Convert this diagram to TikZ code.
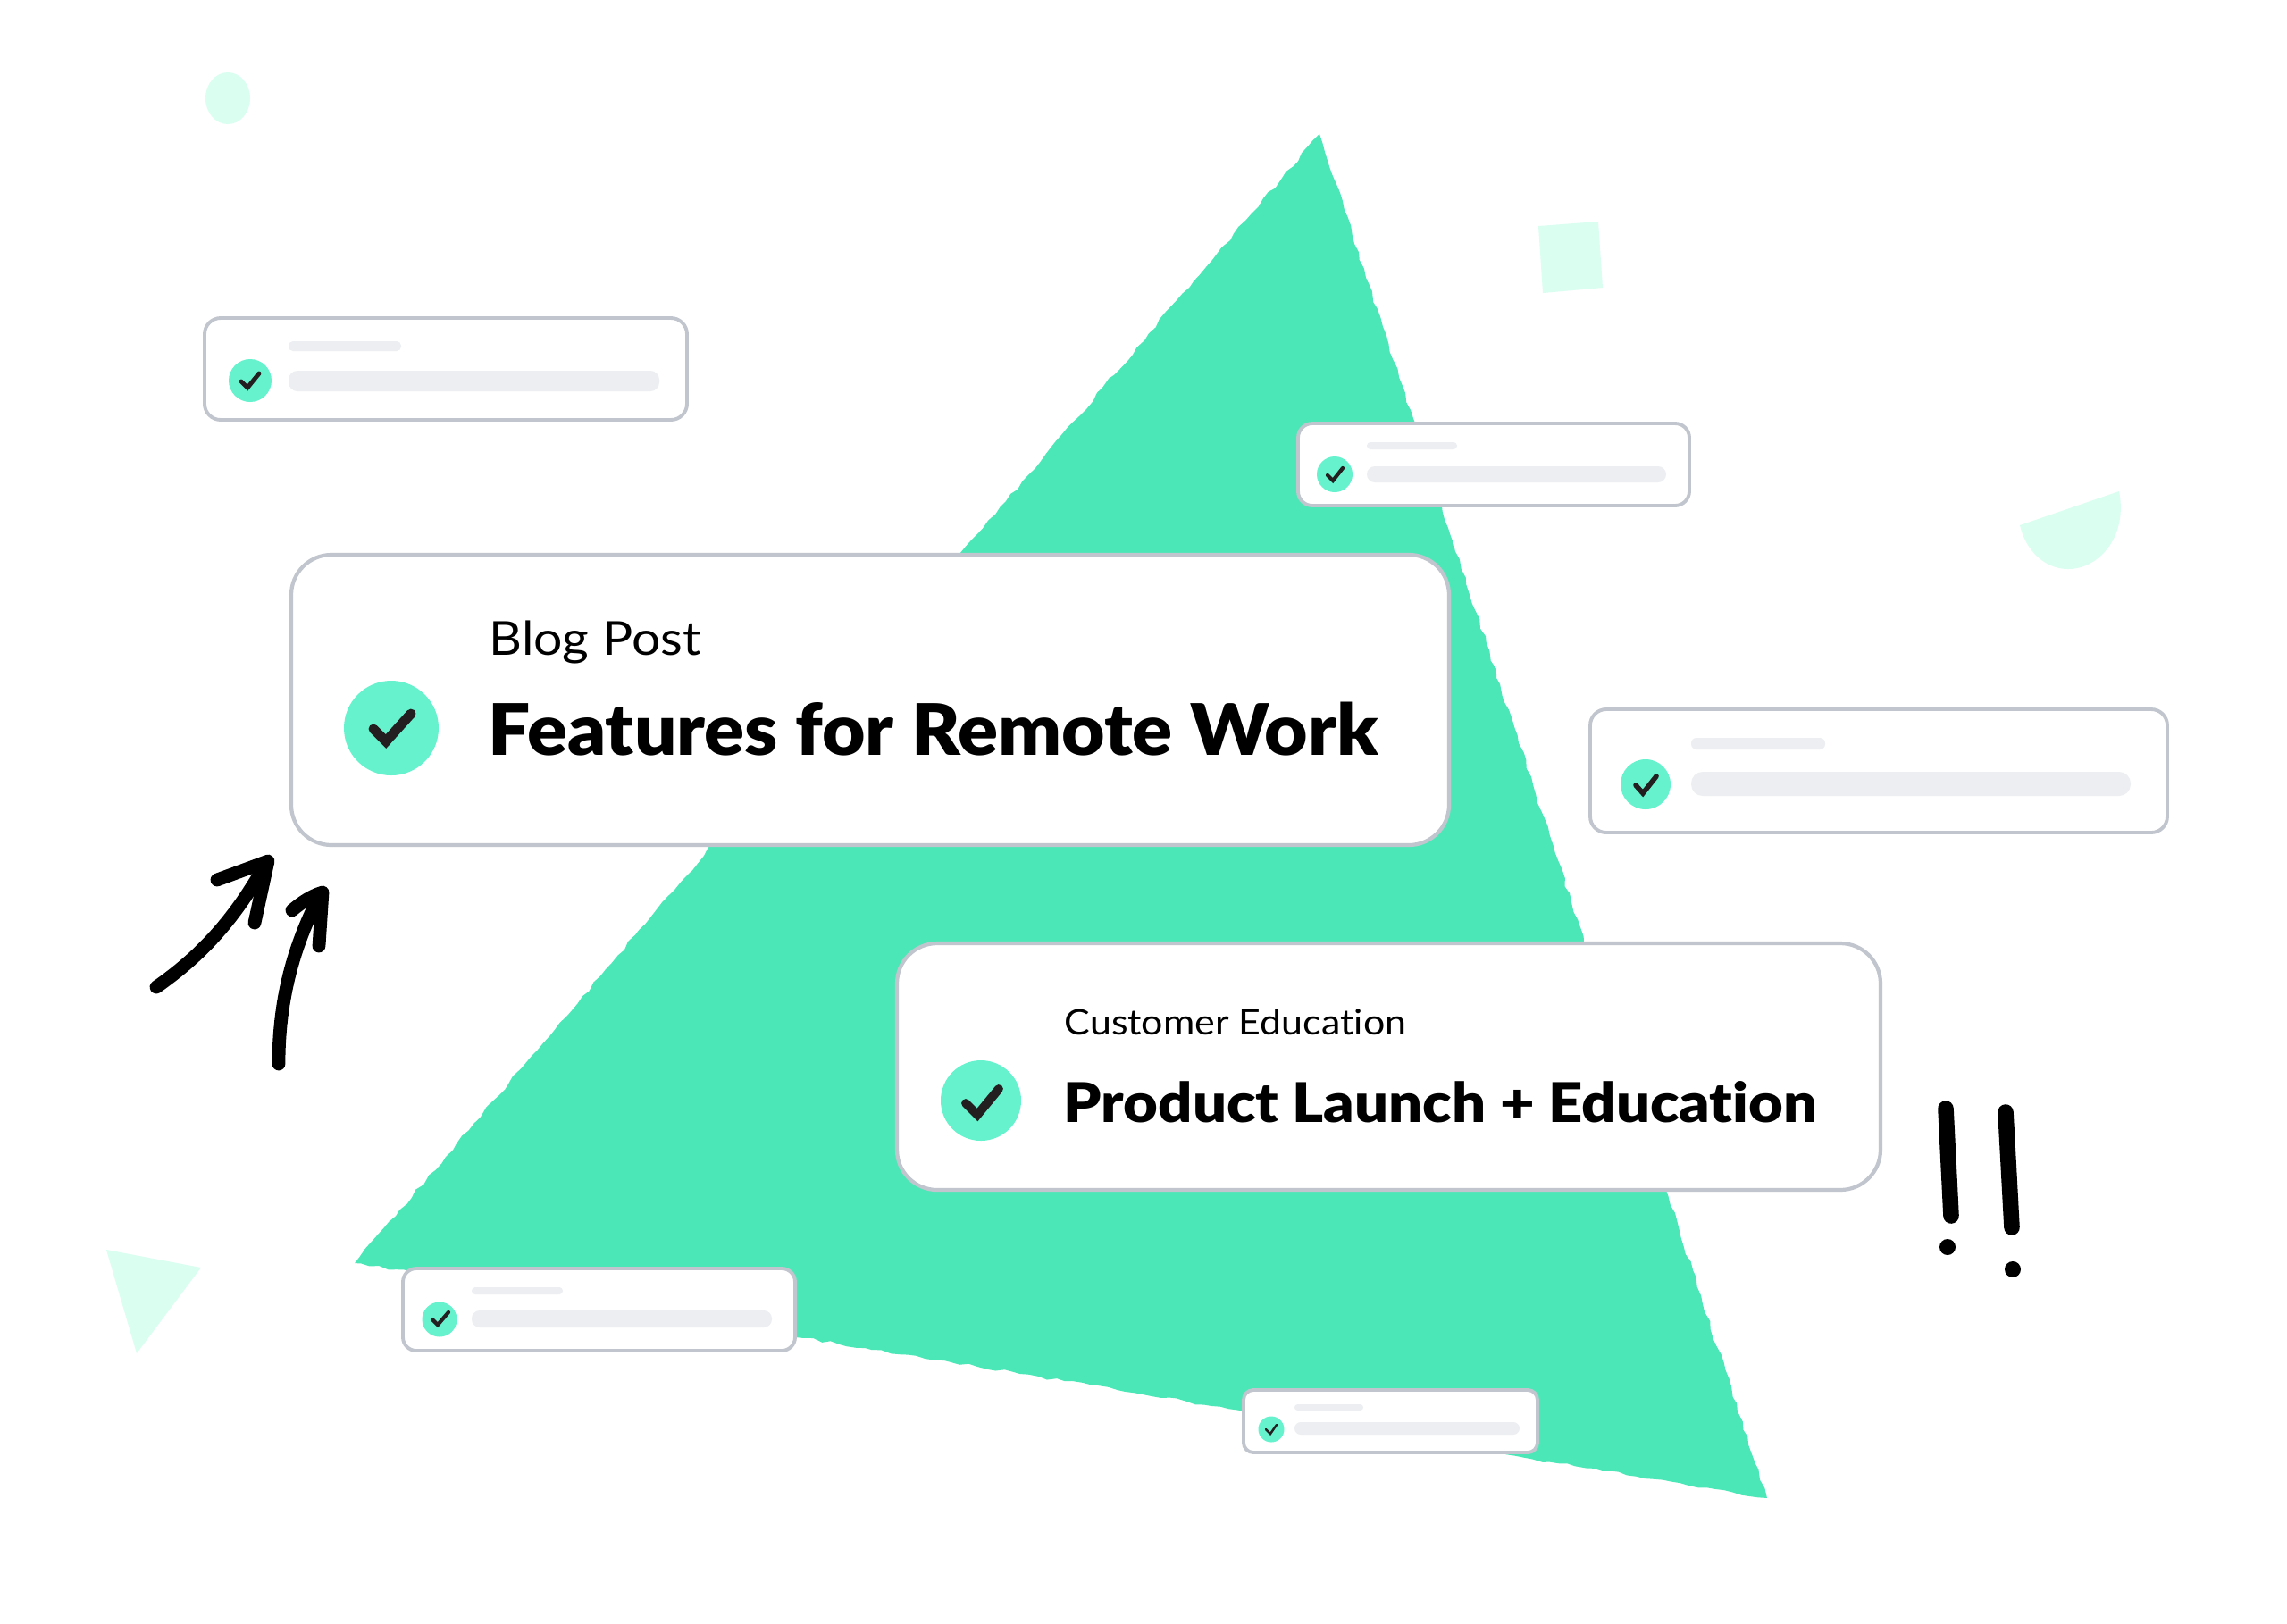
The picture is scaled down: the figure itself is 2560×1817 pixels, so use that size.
\documentclass[tikz,border=0pt]{standalone}
\usepackage{fontspec}
\setmainfont{Lato}[FakeStretch=1.09,RawFeature={-liga}]
\newfontfamily\titlefont{Lato Black}[FakeStretch=1.052,RawFeature={-liga}]
\newfontfamily\titlefontB{Lato Black}[FakeStretch=1.093,RawFeature={-liga}]
\usetikzlibrary{decorations.pathmorphing}
\definecolor{mainGreen}{HTML}{4CE7B7}
\definecolor{checkGreen}{HTML}{65F2CD}
\definecolor{paleGreen}{HTML}{DAFEF0}
\definecolor{cardLine}{HTML}{C1C5CD}
\definecolor{barGrey}{HTML}{ECEEF1}
\definecolor{checkDark}{HTML}{231F20}
\tikzset{
  cardbox/.style={draw=cardLine,fill=white,line width=1.1pt},
  barbox/.style={fill=barGrey},
  tickmark/.style={draw=checkDark,line join=miter,line cap=round},
  inkline/.style={draw=black,line cap=round,line join=round},
  cardtext/.style={anchor=base west,inner sep=0pt,text=black},
  torn/.style={decoration={random steps,segment length=2.8pt,amplitude=0.5pt}}
}
\begin{document}
\begin{tikzpicture}[x=0.01cm,y=-0.01cm]
\useasboundingbox (0,0) rectangle (2560,1817);
\fill[white] (0,0) rectangle (2560,1817);
% pale confetti
\fill[paleGreen] (255,110) ellipse (25 and 29);
\fill[paleGreen] (1722,253) -- (1789,248) -- (1794,322) -- (1727,328) -- cycle;
\fill[paleGreen] (2261,588) -- (2372,550) .. controls (2382,600) and (2350,637) .. (2315,637) .. controls (2290,637) and (2268,618) .. (2261,588) -- cycle;
\fill[paleGreen] (119,1399) -- (225,1419) -- (153,1515) -- cycle;
% torn triangle
\pgfmathsetseed{11}
\coordinate (apex) at (1477,150);
\coordinate (tipR) at (1978,1677);
\coordinate (tipL) at (397,1414);
\fill[mainGreen,torn] (apex) decorate {-- (tipR)} decorate {-- (tipL)} decorate {-- (apex)} -- cycle;
% small cards
\draw[cardbox,rounded corners=0.18cm] (229,356) rectangle (769,470);
\fill[checkGreen] (280,426) circle (24);
\draw[tickmark,line width=1.4pt] (270,427) -- (277,434) -- (290,418);
\fill[barbox,rounded corners=0.05cm] (323,382) rectangle (449,393);
\fill[barbox,rounded corners=0.1cm] (323,415) rectangle (738,438);

\draw[cardbox,rounded corners=0.16cm] (1453,474) rectangle (1891,566);
\fill[checkGreen] (1494,531) circle (20);
\draw[tickmark,line width=1.2pt] (1486,532) -- (1492,538) -- (1503,524);
\fill[barbox,rounded corners=0.04cm] (1530,495) rectangle (1631,503);
\fill[barbox,rounded corners=0.09cm] (1530,522) rectangle (1865,540);

\draw[cardbox,rounded corners=0.18cm] (1780,794) rectangle (2426,932);
\fill[checkGreen] (1842,878) circle (28);
\draw[tickmark,line width=1.6pt] (1831,879) -- (1839,888) -- (1854,869);
\fill[barbox,rounded corners=0.06cm] (1893,826) rectangle (2043,839);
\fill[barbox,rounded corners=0.13cm] (1893,864) rectangle (2385,891);

\draw[cardbox,rounded corners=0.15cm] (451,1420) rectangle (890,1512);
\fill[checkGreen] (492,1477) circle (19.5);
\draw[tickmark,line width=1.2pt] (484,1477) -- (490,1483) -- (502,1469);
\fill[barbox,rounded corners=0.04cm] (528,1441) rectangle (630,1449);
\fill[barbox,rounded corners=0.09cm] (528,1467) rectangle (864,1486);

\draw[cardbox,rounded corners=0.11cm] (1392,1556) rectangle (1721,1626);
\fill[checkGreen] (1423,1600) circle (14.5);
\draw[tickmark,line width=0.7pt] (1417,1600) -- (1422,1605) -- (1429,1595);
\fill[barbox,rounded corners=0.035cm] (1449,1572) rectangle (1526,1579);
\fill[barbox,rounded corners=0.07cm] (1449,1592) rectangle (1701,1606);

% big card 1
\draw[cardbox,line width=1.2pt,rounded corners=0.45cm] (326,621) rectangle (1622,946);
\fill[checkGreen] (438,815) circle (53);
\draw[tickmark,line width=3.1pt] (418,816) -- (432,830) -- (460,799);
\node[cardtext,font=\fontsize{14.9pt}{16pt}\selectfont] (blog) at (547,733) {Blog Post};
\node[cardtext,font=\fontsize{22.6pt}{24pt}\titlefont] (features) at (546,845) {Features for Remote Work};

% big card 2
\draw[cardbox,line width=1.2pt,rounded corners=0.45cm] (1004,1056) rectangle (2105,1332);
\fill[checkGreen] (1098,1232) circle (45);
\draw[tickmark,line width=2.8pt] (1081,1235) -- (1094,1248) -- (1118,1219);
\node[cardtext,font=\fontsize{11.2pt}{13pt}\selectfont] (customer) at (1191,1158) {Customer Education};
\node[cardtext,font=\fontsize{17.4pt}{19pt}\titlefontB] (product) at (1190,1256) {Product Launch + Education};

% hand-drawn arrows
\draw[inkline,line width=4.2pt] (175,1105) .. controls (225,1070) and (262,1030) .. (298,966);
\draw[inkline,line width=4.2pt] (243,985) -- (300,964) -- (285,1033);
\draw[inkline,line width=4.2pt] (312,1191) .. controls (312,1120) and (328,1060) .. (358,1002);
\draw[inkline,line width=4.2pt] (327,1019) .. controls (338,1010) and (348,1003) .. (361,999) -- (357,1059);
% exclamation marks
\draw[inkline,line width=5pt] (2178,1241) -- (2184,1361);
\fill[black] (2180,1396) circle (9);
\draw[inkline,line width=5pt] (2245,1245) -- (2252,1374);
\fill[black] (2253,1421) circle (9);
\end{tikzpicture}
\end{document}
